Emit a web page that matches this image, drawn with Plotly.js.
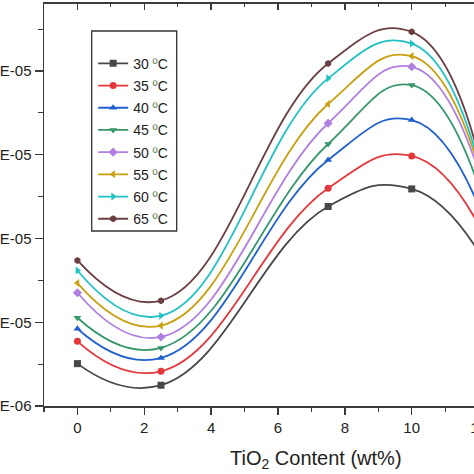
<!DOCTYPE html>
<html>
<head>
<meta charset="utf-8">
<script src="https://cdn.plot.ly/plotly-3.0.1.min.js"></script>
<style>
html, body { margin:0; padding:0; width:474px; height:474px; overflow:hidden; background:#fff; }
#wrap { position:relative; width:474px; height:474px; overflow:hidden; }
#plot { position:absolute; left:-60px; top:0; }
#frameTop { position:absolute; left:43px; top:2px; width:431px; height:2px; background:#3a3a3a; z-index:5; }
</style>
</head>
<body>
<div id="wrap"><div id="plot"></div><div id="frameTop"></div></div>
<script>
// TiO2 content (wt%)
const tio2 = [0, 2.5, 7.5, 10, 12];
// values in units of 1E-06
const t30 = [7.53, 6.24, 16.91, 17.96, 14.21];
const t35 = [8.86, 7.07, 18.00, 19.93, 15.82];
const t40 = [9.61, 7.87, 19.69, 22.07, 16.95];
const t45 = [10.27, 8.47, 20.64, 24.16, 18.14];
const t50 = [11.76, 9.12, 21.88, 25.25, 19.03];
const t55 = [12.34, 9.80, 23.03, 25.89, 19.33];
const t60 = [13.09, 10.39, 24.56, 26.64, 19.57];
const t65 = [13.69, 11.29, 25.45, 27.34, 19.99];
const unit = 1e-6;

const seriesNames = ["30", "35", "40", "45", "50", "55", "60", "65"];
const seriesVals = [t30, t35, t40, t45, t50, t55, t60, t65];

const yTickVals = [5e-6, 1e-5, 1.5e-5, 2e-5, 2.5e-5];
const yTickText = ["5.0E-06", "1.0E-05", "1.5E-05", "2.0E-05", "2.5E-05"];

const colors = ["#474747", "#e5383d", "#2160cf", "#36976a", "#b07fe0", "#c9a012", "#21c1c4", "#6b3f42"];
const symbols = ["square", "circle", "triangle-up", "triangle-down", "diamond", "triangle-left", "triangle-right", "hexagon"];

const traces = seriesNames.map((n, i) => ({
  x: tio2,
  y: seriesVals[i].map(v => v * unit),
  type: "scatter",
  mode: "lines+markers",
  name: n + " <span style='color:#5e7f55'>º</span>C",
  legendgroup: "g" + i,
  line: { color: colors[i], width: 1.8, shape: "spline", smoothing: 1.3 },
  marker: { color: colors[i], symbol: symbols[i], size: 7 }
}));
// invisible helper trace on the top axis
traces.push({ x: [tio2[0]], y: [t30[0] * unit], type: "scatter", mode: "markers", marker: { opacity: 0, size: 1 }, xaxis: "x2", yaxis: "y", showlegend: false, hoverinfo: "skip" });

const xRange = [-1, 13];
const axisColor = "#3a3a3a";
const layout = {
  width: 580, height: 474,
  margin: { l: 104, r: 8, t: 3, b: 68 },
  paper_bgcolor: "#fff", plot_bgcolor: "#fff",
  font: { family: "Liberation Sans, Arial, sans-serif", color: "#222" },
  showlegend: true,
  legend: {
    x: 0.105, y: 0.889, xanchor: "left", yanchor: "top",
    bgcolor: "rgba(0,0,0,0)", borderwidth: 0,
    font: { size: 14, color: "#222" },
    traceorder: "grouped", tracegroupgap: 1, itemwidth: 30
  },
  xaxis: {
    range: xRange, showgrid: false, zeroline: false,
    showline: true, mirror: true, linecolor: axisColor, linewidth: 1.5,
    ticks: "outside", ticklen: 7, tickwidth: 1.3, tickcolor: axisColor,
    tickmode: "linear", tick0: 0, dtick: 2,
    minor: { ticks: "outside", ticklen: 4, tickwidth: 1.2, tickcolor: axisColor, dtick: 1, tick0: 0 },
    tickfont: { size: 15, color: "#222" }
  },
  xaxis2: {
    overlaying: "x", side: "top", anchor: "y", range: xRange,
    showgrid: false, zeroline: false, showticklabels: false,
    showline: true, linecolor: axisColor, linewidth: 1.5,
    ticks: "inside", ticklen: 7, tickwidth: 1.3, tickcolor: axisColor,
    tickmode: "linear", tick0: 0, dtick: 2,
    minor: { ticks: "inside", ticklen: 4, tickwidth: 1.2, tickcolor: axisColor, dtick: 1, tick0: 0 }
  },
  yaxis: {
    range: [5e-6, 29.06e-6], showgrid: false, zeroline: false,
    showline: true, linecolor: axisColor, linewidth: 1.5,
    ticks: "outside", ticklen: 8, tickwidth: 1.3, tickcolor: axisColor,
    tickmode: "array", tickvals: yTickVals, ticktext: yTickText,
    minor: { ticks: "outside", ticklen: 5, tickwidth: 1.2, tickcolor: axisColor, tickmode: "linear", tick0: 0, dtick: 2.5e-6 },
    tickfont: { size: 15, color: "#222" }
  },
  shapes: [{
    type: "rect", xref: "paper", yref: "paper",
    x0: 0.1019, x1: 0.2835, y0: 0.4342, y1: 0.9305,
    line: { color: "#333", width: 1.3 }, fillcolor: "rgba(0,0,0,0)"
  }],
  annotations: [{
    text: "TiO<sub>2</sub> Content (wt%)", xref: "x", yref: "paper",
    x: 7.15, y: -0.132, xanchor: "center", yanchor: "middle",
    showarrow: false, font: { size: 20, color: "#222" }
  }]
};

Plotly.newPlot("plot", traces, layout, { displayModeBar: false, staticPlot: true });
</script>
</body>
</html>
